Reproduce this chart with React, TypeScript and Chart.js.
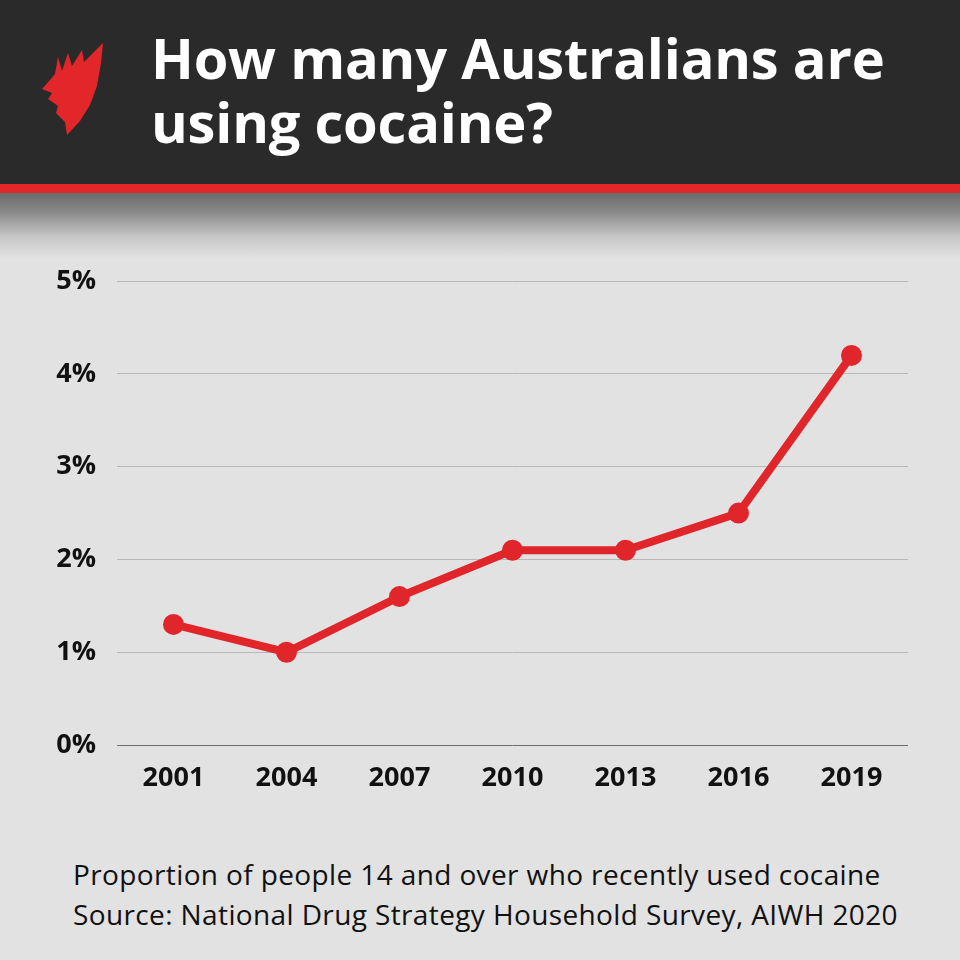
import React, { useEffect, useRef } from "react";
import { Chart, registerables } from "chart.js";

Chart.register(...registerables);

const years = ["2001", "2004", "2007", "2010", "2013", "2016", "2019"];
const usagePct = [1.3, 1.0, 1.6, 2.1, 2.1, 2.5, 4.2];
const yTicks = [0, 1, 2, 3, 4, 5];
const titleLines = ["How many Australians are", "using cocaine?"];
const footerLines = [
  "Proportion of people 14 and over who recently used cocaine",
  "Source: National Drug Strategy Household Survey, AIWH 2020",
];

const RED = "#e0262a";
const FONT = "'Open Sans', 'DejaVu Sans', sans-serif";

export default function App() {
  const ref = useRef<HTMLCanvasElement | null>(null);

  useEffect(() => {
    if (!ref.current) return;
    const chart = new Chart(ref.current, {
      type: "line",
      data: {
        labels: years,
        datasets: [
          {
            data: usagePct,
            borderColor: RED,
            backgroundColor: RED,
            borderWidth: 8,
            pointRadius: 10.5,
            pointHoverRadius: 10.5,
            pointBackgroundColor: RED,
            pointBorderWidth: 0,
            tension: 0,
          },
        ],
      },
      options: {
        animation: false,
        responsive: false,
        maintainAspectRatio: false,
        layout: { padding: { left: 0, right: 52, top: 5, bottom: 0 } },
        plugins: { legend: { display: false }, tooltip: { enabled: false }, title: { display: false } },
        scales: {
          x: {
            offset: true,
            grid: { display: false, drawTicks: false },
            border: { display: false },
            ticks: {
              padding: 17,
              color: "#111",
              font: { family: FONT, size: 27, weight: "bold" },
              maxRotation: 0,
            },
            afterFit: (s: any) => {
              s.height = 75;
            },
          },
          y: {
            min: 0,
            max: 5,
            afterBuildTicks: (s: any) => {
              s.ticks = yTicks.map((v) => ({ value: v }));
            },
            grid: {
              drawTicks: false,
              lineWidth: 1,
              color: (ctx: any) => (ctx.tick && ctx.tick.value === 0 ? "#6e6e6e" : "#b8b8b8"),
            },
            border: { display: false },
            ticks: {
              padding: 21,
              color: "#111",
              font: { family: FONT, size: 27, weight: "bold" },
              callback: (v: any) => `${v}%`,
            },
            afterFit: (s: any) => {
              s.width = 117;
            },
          },
        },
      },
    });
    return () => chart.destroy();
  }, []);

  return (
    <div
      style={{
        position: "fixed",
        left: 0,
        top: 0,
        width: 960,
        height: 960,
        background: "#e2e2e2",
        overflow: "hidden",
        fontFamily: FONT,
      }}
    >
      <div style={{ position: "absolute", left: 0, top: 0, width: 960, height: 184, background: "#2b2a2a" }} />
      <div style={{ position: "absolute", left: 0, top: 184, width: 960, height: 9, background: "#e2262a" }} />
      <div
        style={{
          position: "absolute",
          left: 0,
          top: 193,
          width: 960,
          height: 65,
          background: "linear-gradient(#6a6a6a 0%, #8a8a8a 30%, #c4c4c4 65%, #e2e2e2 100%)",
        }}
      />
      <svg width="120" height="160" style={{ position: "absolute", left: 0, top: 0 }}>
        <polygon
          fill="#e2262a"
          points="103,43 101,63 97,86 90,105 80,121 67,135 65,122 56,113 58,106 48,99 52,93 42,89 50,80 55,74 58,57 62,71 68,53 72,66 82,50 84,62"
        />
      </svg>
      <div
        style={{
          position: "absolute",
          left: 151,
          top: 25,
          color: "#fff",
          fontWeight: 700,
          fontSize: 56,
          lineHeight: "64px",
          whiteSpace: "nowrap",
          letterSpacing: -0.2,
        }}
      >
        {titleLines.map((l, i) => (
          <div key={i}>{l}</div>
        ))}
      </div>
      <canvas ref={ref} width={960} height={576} style={{ position: "absolute", left: 0, top: 244 }} />
      <div
        style={{
          position: "absolute",
          left: 73,
          top: 854,
          color: "#111",
          fontSize: 28,
          lineHeight: "40px",
          whiteSpace: "nowrap",
          letterSpacing: 0.38,
        }}
      >
        {footerLines.map((l, i) => (
          <div key={i}>{l}</div>
        ))}
      </div>
    </div>
  );
}
